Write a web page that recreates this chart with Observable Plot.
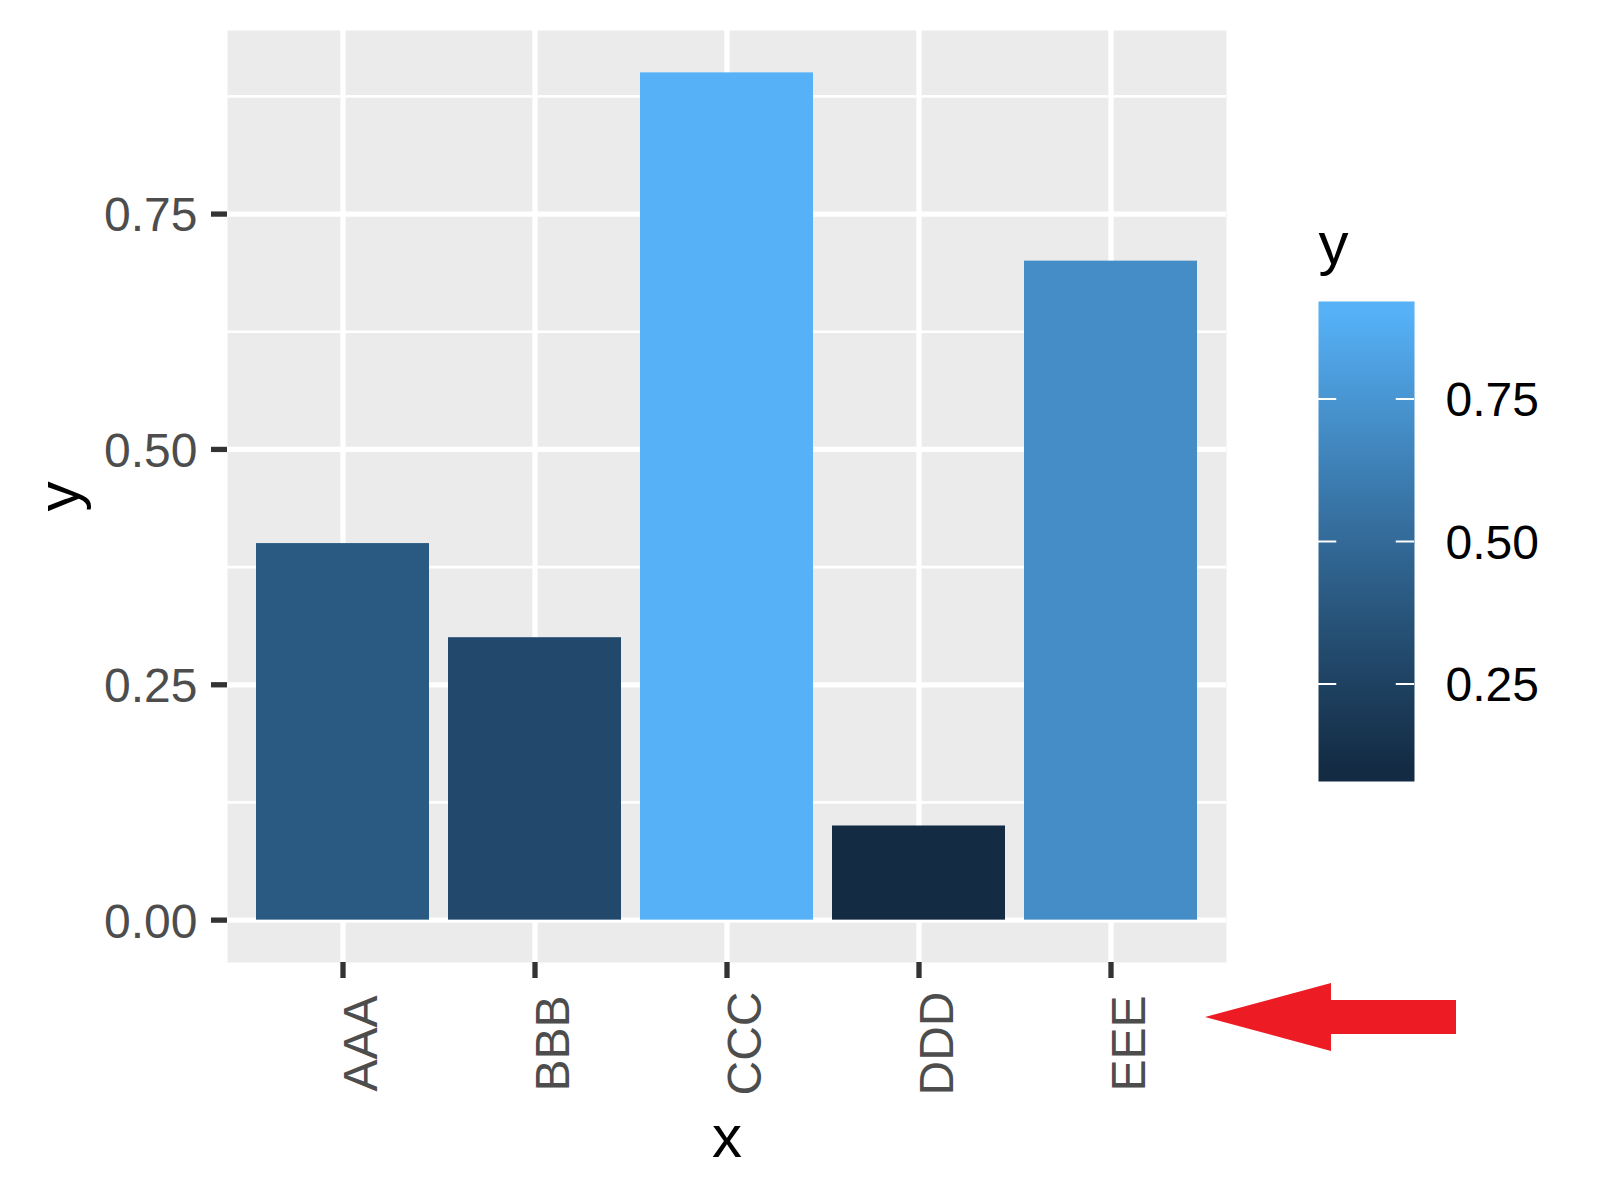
<!DOCTYPE html>
<html>
<head>
<meta charset="utf-8">
<script src="https://cdn.jsdelivr.net/npm/d3@7"></script>
<script src="https://cdn.jsdelivr.net/npm/@observablehq/plot@0.6"></script>
<style>
  html, body { margin: 0; padding: 0; background: #ffffff; }
  #wrap { position: relative; width: 1600px; height: 1200px; background: #ffffff; overflow: hidden; }
  #wrap > svg { position: absolute; }
</style>
</head>
<body>
<div id="wrap"></div>
<script>
// ---- data ----
const categories = ["AAA", "BBB", "CCC", "DDD", "EEE"];
const values = [0.4, 0.3, 0.9, 0.1, 0.7];
const yBreaks = [0, 0.25, 0.5, 0.75];
const yMinorBreaks = [0.125, 0.375, 0.625, 0.875];
const legendBreaks = [0.25, 0.5, 0.75];
const xTitle = "x";
const yTitle = "y";
const legendTitle = "y";
const colorLow = "#132B43";
const colorHigh = "#56B1F7";

// ---- derived ----
const data = categories.map((x, i) => ({x, y: values[i]}));
const yMax = d3.max(values);
const yDomain = [0 - 0.05 * yMax, yMax * 1.05];           // ggplot 5% expansion
const colorLimits = d3.extent(values);
const nbin = 20;                                             // ggplot colourbar bins
const halfBin = (colorLimits[1] - colorLimits[0]) / (nbin - 1) / 2;
const legendDomain = [colorLimits[0] - halfBin, colorLimits[1] + halfBin];
const colorOpts = {type: "linear", domain: colorLimits, range: [colorLow, colorHigh], interpolate: "lab", clamp: true};
const fmt = d3.format(".2f");
const FONT = "'Liberation Sans', Arial, Helvetica, sans-serif";

const wrap = document.getElementById("wrap");

// ---- main panel ----
const main = Plot.plot({
  width: 1600,
  height: 1200,
  marginLeft: 227,
  marginRight: 374,
  marginTop: 30,
  marginBottom: 238,
  style: {fontFamily: FONT, background: "transparent", overflow: "visible"},
  x: {type: "band", domain: categories, paddingInner: 0.1, paddingOuter: 0.15, axis: null},
  y: {domain: yDomain, axis: null},
  color: colorOpts,
  marks: [
    Plot.frame({fill: "#EBEBEB", stroke: "none"}),
    Plot.ruleY(yMinorBreaks, {y: d => d, stroke: "white", strokeWidth: 2.7}),
    Plot.ruleY(yBreaks, {y: d => d, stroke: "white", strokeWidth: 5.3}),
    Plot.ruleX(categories, {x: d => d, stroke: "white", strokeWidth: 5.3}),
    Plot.barY(data, {x: "x", y: "y", fill: "y"}),
    Plot.axisY(yBreaks, {
      tickSize: 16, stroke: "#333333", strokeWidth: 5.3, fill: "none", label: null
    }),
    Plot.axisY(yBreaks, {
      tickSize: 0, tickPadding: 30, tickFormat: fmt, dy: 2,
      fill: "#4D4D4D", fontSize: 48, label: null
    }),
    Plot.axisX(categories, {
      tickSize: 16, stroke: "#333333", strokeWidth: 5.3, fill: "none", label: null
    }),
    Plot.text(categories, {
      x: d => d, text: d => d, frameAnchor: "bottom", dy: 81, rotate: -90,
      textAnchor: "middle", lineAnchor: "top", fontSize: 48, fill: "#4D4D4D"
    }),
    Plot.text([xTitle], {
      text: d => d, frameAnchor: "bottom", dy: 194, textAnchor: "middle",
      lineAnchor: "bottom", fontSize: 60, fill: "black"
    }),
    Plot.text([yTitle], {
      text: d => d, frameAnchor: "left", dx: -149, rotate: -90, textAnchor: "middle",
      lineAnchor: "bottom", fontSize: 60, fill: "black"
    })
  ]
});
main.style.left = "0px";
main.style.top = "0px";
wrap.appendChild(main);

// ---- colourbar legend ----
const legend = Plot.plot({
  width: 300,
  height: 650,
  marginLeft: 18,
  marginRight: 186,
  marginTop: 101,
  marginBottom: 69,
  style: {fontFamily: FONT, background: "transparent", overflow: "visible"},
  x: {domain: [0, 1], axis: null},
  y: {domain: legendDomain, axis: null},
  color: colorOpts,
  marks: [
    Plot.raster({
      x1: 0, x2: 1, y1: legendDomain[0], y2: legendDomain[1],
      width: 1, height: 480, fill: (x, y) => y, imageRendering: "auto"
    }),
    Plot.ruleY(legendBreaks, {y: d => d, x1: 0, x2: 0.19, stroke: "white", strokeWidth: 2}),
    Plot.ruleY(legendBreaks, {y: d => d, x1: 0.81, x2: 1, stroke: "white", strokeWidth: 2}),
    Plot.axisY(legendBreaks, {
      anchor: "right", tickSize: 0, tickPadding: 31, tickFormat: fmt, dy: 2,
      fill: "black", fontSize: 48, label: null
    }),
    Plot.text([legendTitle], {
      text: d => d, frameAnchor: "top-left", dy: -38, textAnchor: "start",
      lineAnchor: "bottom", fontSize: 60, fill: "black"
    })
  ]
});
legend.style.left = "1300px";
legend.style.top = "200px";
wrap.appendChild(legend);

// ---- red annotation arrow ----
const NS = "http://www.w3.org/2000/svg";
const arrowSvg = document.createElementNS(NS, "svg");
arrowSvg.setAttribute("width", "1600");
arrowSvg.setAttribute("height", "1200");
arrowSvg.style.left = "0px";
arrowSvg.style.top = "0px";
const poly = document.createElementNS(NS, "polygon");
poly.setAttribute("points", "1205,1017 1331,983 1331,1000 1456,1000 1456,1034 1331,1034 1331,1051");
poly.setAttribute("fill", "#ED1C24");
arrowSvg.appendChild(poly);
wrap.appendChild(arrowSvg);
</script>
</body>
</html>
